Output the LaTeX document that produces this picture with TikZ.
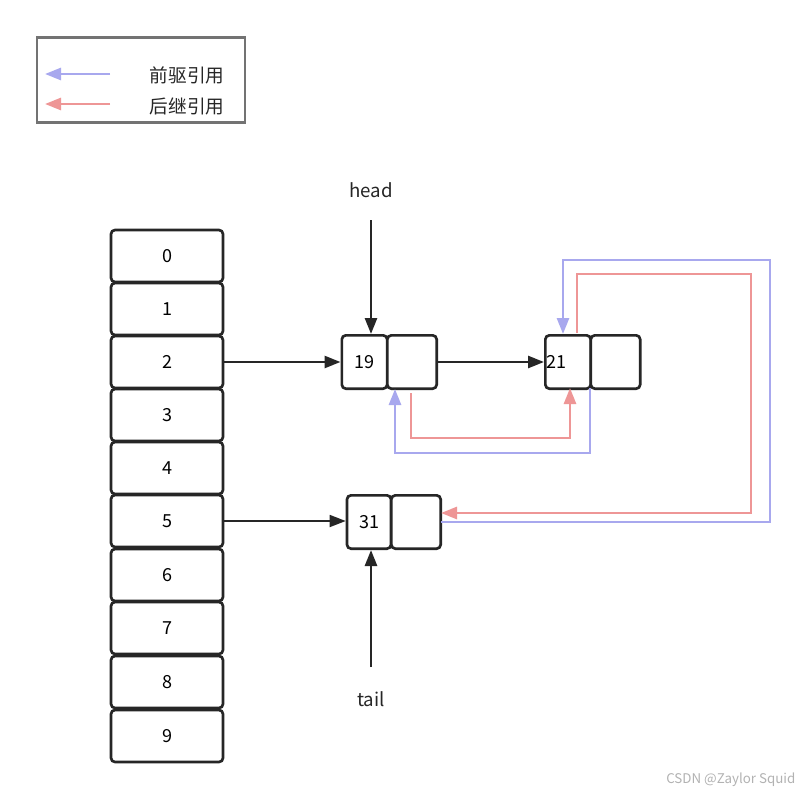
\documentclass[tikz,border=0pt]{standalone}
\usepackage{fontspec}
\setmainfont{Noto Sans CJK SC}
\usetikzlibrary{arrows.meta}
\definecolor{bl}{HTML}{A8A8EE}
\definecolor{rd}{HTML}{EE9696}
\definecolor{dk}{HTML}{262626}
\begin{document}
\begin{tikzpicture}[x=0.75pt,y=-0.75pt,
 cell/.style={draw=dk,line width=2pt,rounded corners=3pt,fill=white,inner sep=0pt,font=\fontsize{13.5}{13.5}\selectfont},
 blk/.style={draw=dk,line width=2pt,-{Triangle[length=12pt,width=9pt]}},
 bla/.style={draw=bl,line width=2pt,-{Triangle[length=12pt,width=9pt]}},
 rda/.style={draw=rd,line width=2pt,-{Triangle[length=12pt,width=9pt]}},
 txt/.style={font=\fontsize{14}{14}\selectfont,text=dk}]
\useasboundingbox (0,0) rectangle (807,800);
\fill[white] (0,0) rectangle (807,800);
% legend
\node[draw=gray!90!black,line width=2pt,minimum width=156pt,minimum height=64pt,inner sep=0pt] (leg) at (141,80) {};
\coordinate (lb1) at (110,74); \coordinate (lb2) at (45,74);
\coordinate (lr1) at (110,104); \coordinate (lr2) at (45,104);
\draw[bla] (lb1) -- (lb2); \draw[rda] (lr1) -- (lr2);
\node[txt] (t1) at (187,75) {前驱引用};
\node[txt] (t2) at (187,106) {后继引用};
% array
\foreach \i/\y in {0/256,1/309,2/362,3/415,4/468,5/521,6/575,7/628,8/682,9/736}
  \node[cell,minimum width=84pt,minimum height=39pt] (a\i) at (167,\y) {\i};
% list nodes
\node[cell,minimum width=34pt,minimum height=40pt] (n19) at (364.5,362) {19};
\node[cell,minimum width=37pt,minimum height=40pt] (p19) at (412,362) {};
\node[cell,minimum width=34pt,minimum height=40pt,text width=30pt,align=left] (n21) at (568,362) {\hspace*{-1pt}21};
\node[cell,minimum width=37pt,minimum height=40pt] (p21) at (615.5,362) {};
\node[cell,minimum width=33pt,minimum height=40pt] (n31) at (369,522) {31};
\node[cell,minimum width=37pt,minimum height=40pt] (p31) at (416,522) {};
% head/tail
\node[txt] (head) at (371,190) {head};
\node[txt] (tail) at (371,699) {tail};
\coordinate (hs) at (371,220); \coordinate (ts) at (371,667);
\draw[blk] (hs) -- (n19.north -| hs);
\draw[blk] (ts) -- (n31.south -| ts);
% pointers
\draw[blk] (a2.east) -- (n19.west);
\draw[blk] (p19.east) -- (n21.west);
\draw[blk,line width=1.3pt] (a5.east) -- (a5.east -| n31.west);
% small loop
\draw[bla] (590,388) |- (395,453) -- (395,389);
\draw[rda] (411,393) |- (570,438) -- (570,388);
% big loop
\draw[rda] (577,333) |- (751,274) |- (441,513);
\draw[bla] (441,522) -| (770,260) -| (563,334);
\node[font=\fontsize{10}{10}\selectfont,text=gray!60,anchor=east] (wm) at (800,780) {CSDN @Zaylor Squid};
\end{tikzpicture}
\end{document}
